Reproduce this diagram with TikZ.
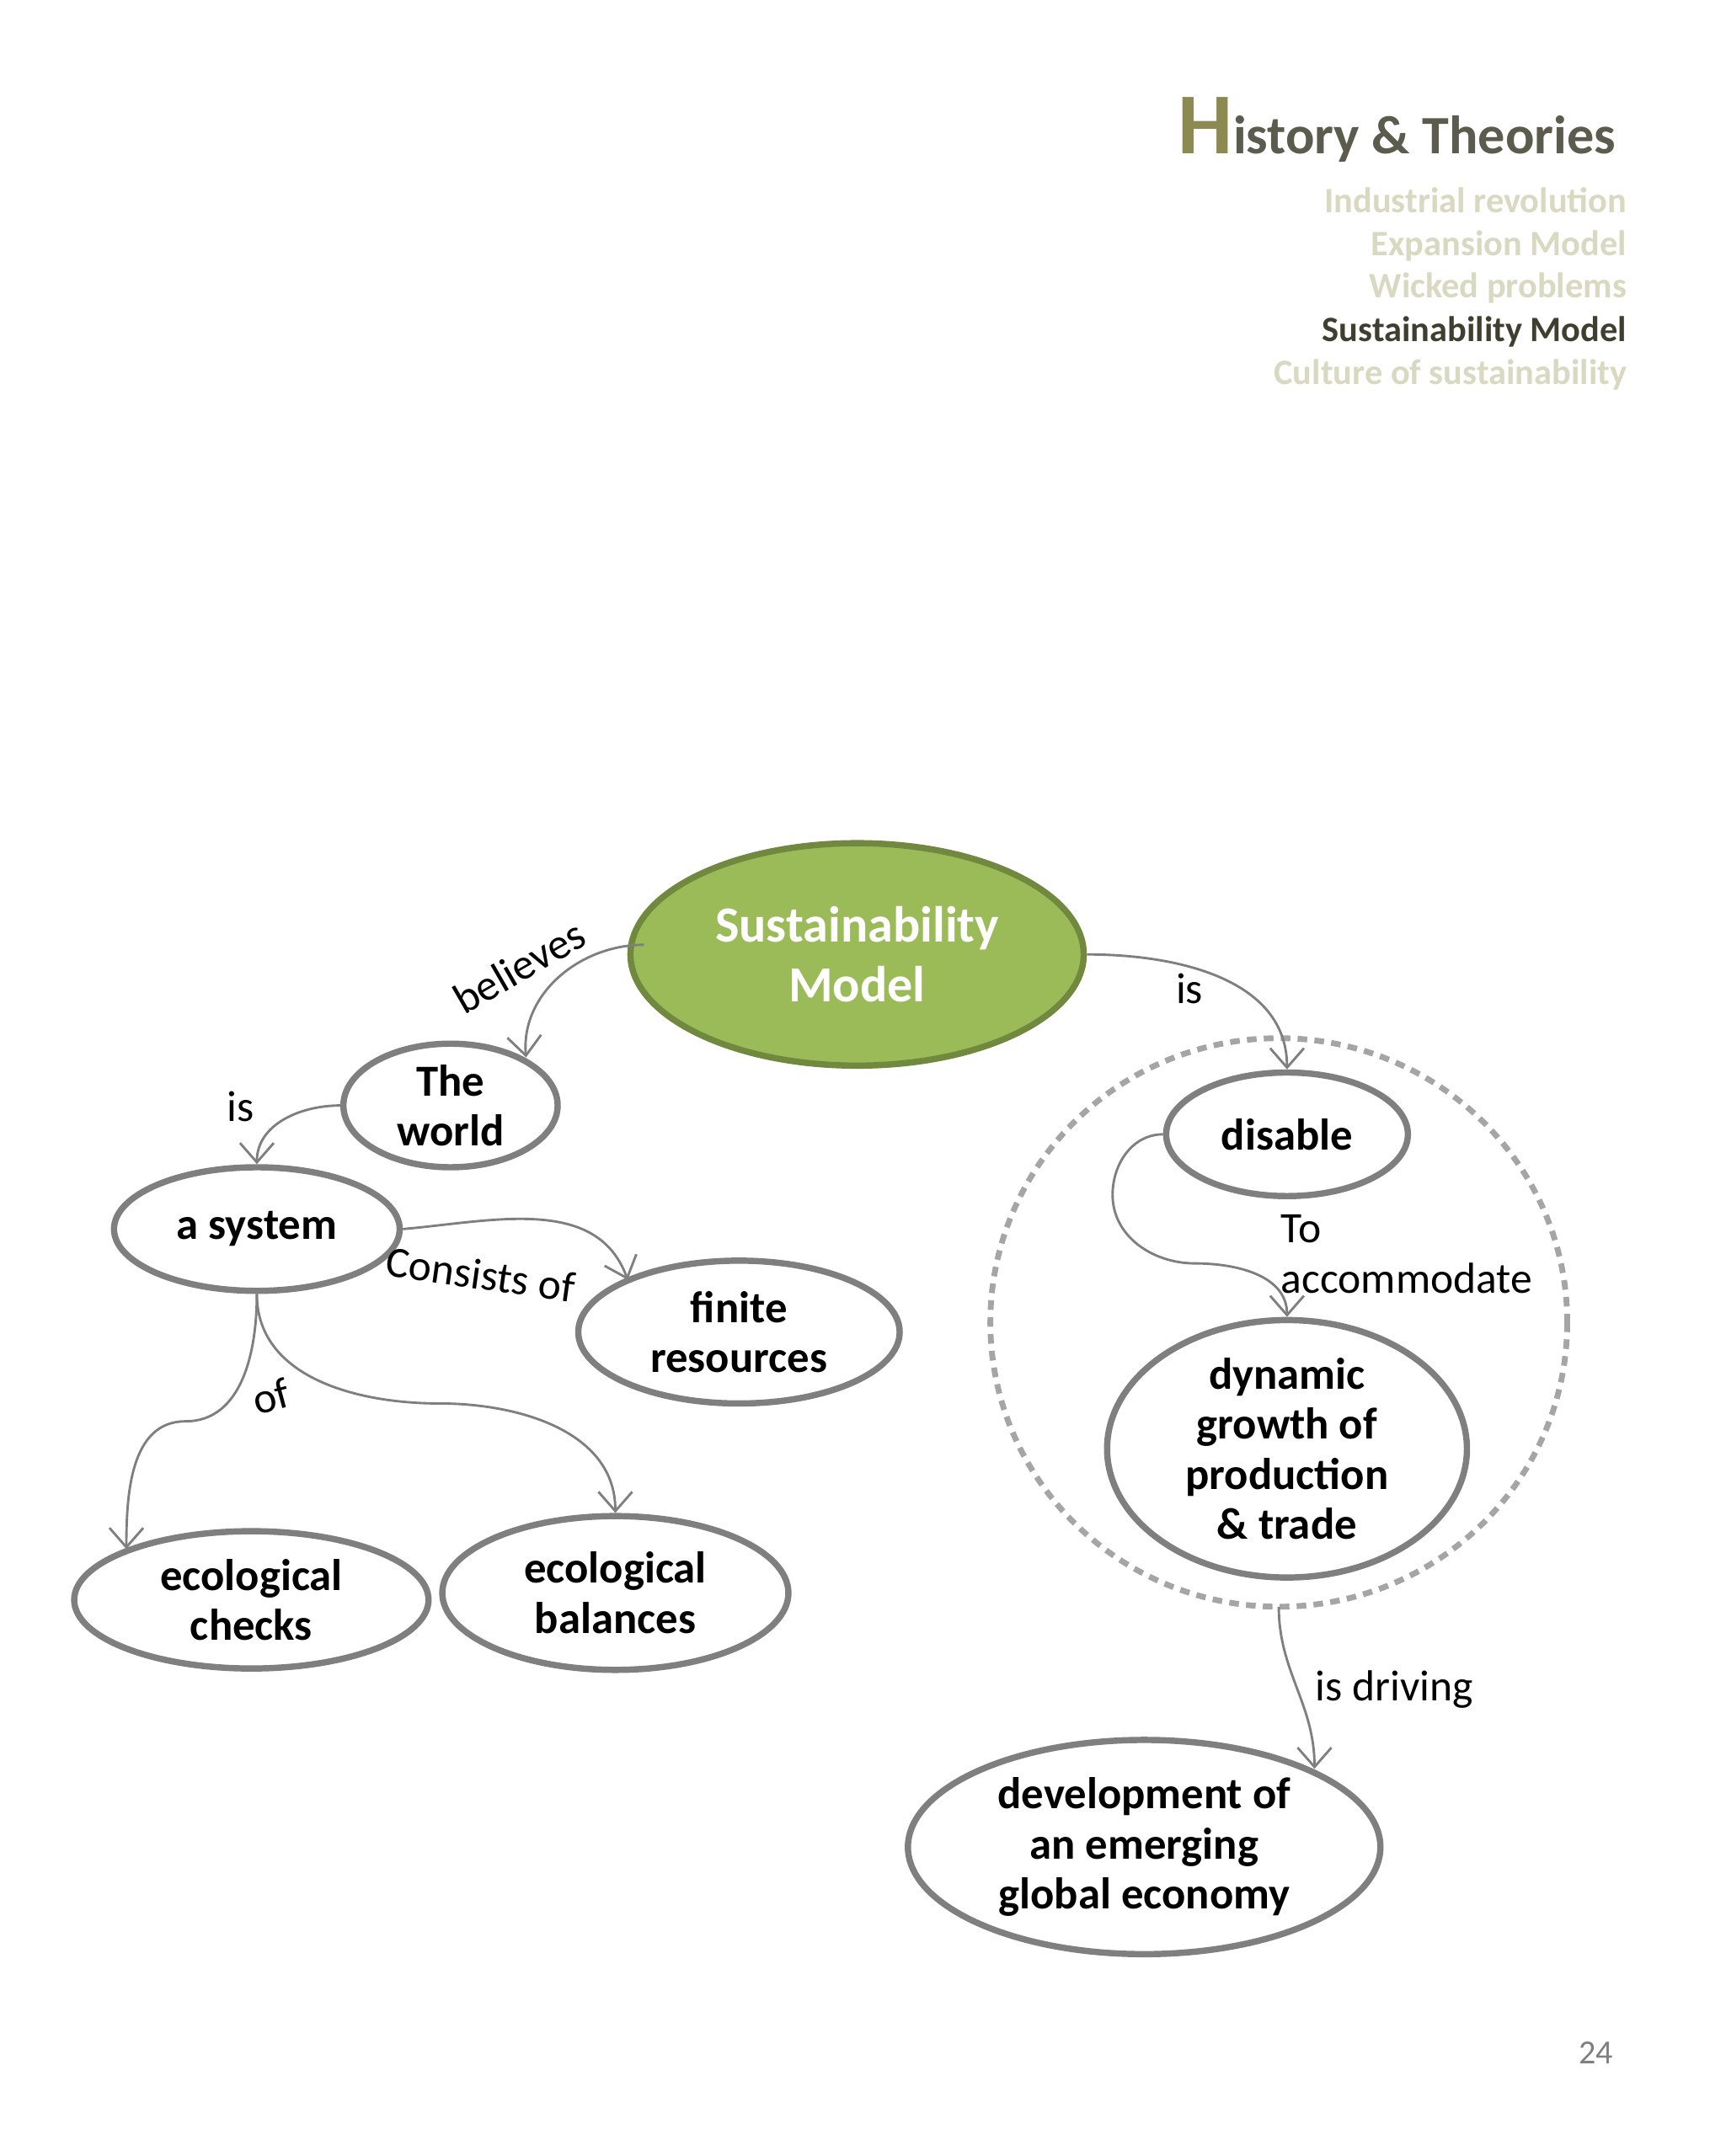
\documentclass[tikz,border=0pt]{standalone}
\usepackage{fontspec}
\setmainfont{Carlito}
\usetikzlibrary{arrows.meta,shapes.geometric}
\definecolor{olive}{HTML}{8C8A50}
\definecolor{menulight}{HTML}{D9D8C1}
\definecolor{menudark}{HTML}{3F3F2F}
\definecolor{leaf}{HTML}{9BBB59}
\definecolor{leafedge}{HTML}{71893F}
\definecolor{edge}{HTML}{7F7F7F}
\tikzset{
  concept/.style={ellipse, draw=edge, line width=1.3pt, fill=white, inner sep=0pt,
    align=center, font=\fontsize{9.2}{10.4}\selectfont\bfseries},
  link/.style={draw=edge, line width=0.5pt, -{Straight Barb[length=4pt,width=7pt]}},
  lbl/.style={font=\fontsize{9}{10.5}\selectfont, text=black}
}
\begin{document}
\begin{tikzpicture}[x=0.1mm, y=-0.1mm]
  \useasboundingbox (0,0) rectangle (1256,1570);

  % header
  \node[anchor=base east, inner sep=0pt, text=olive, font=\fontsize{11.2}{12}\selectfont\bfseries] (title) at (1177,112)
    {{\fontsize{18}{19}\selectfont H}\textcolor{menudark!85}{istory \& Theories}};
  \node[anchor=base east, inner sep=0pt, text=menulight, font=\fontsize{7.4}{8}\selectfont\bfseries] (m1) at (1185,155) {Industrial revolution};
  \node[anchor=base east, inner sep=0pt, text=menulight, font=\fontsize{7.4}{8}\selectfont\bfseries] (m2) at (1185,186) {Expansion Model};
  \node[anchor=base east, inner sep=0pt, text=menulight, font=\fontsize{7.4}{8}\selectfont\bfseries] (m3) at (1185,217) {Wicked problems};
  \node[anchor=base east, inner sep=0pt, text=menudark, font=\fontsize{7.4}{8}\selectfont\bfseries] (m4) at (1185,249) {Sustainability Model};
  \node[anchor=base east, inner sep=0pt, text=menulight, font=\fontsize{7.4}{8}\selectfont\bfseries] (m5) at (1185,280) {Culture of sustainability};
  \node[text=edge, font=\fontsize{7}{8}\selectfont] (page) at (1162,1495) {24};

  % concepts
  \node[concept, fill=leaf, draw=leafedge, text=white, minimum width=33mm, minimum height=16.2mm,
    font=\fontsize{10.5}{12.5}\selectfont\bfseries] (model) at (624,695) {Sustainability\\Model};
  \node[concept, minimum width=15.6mm, minimum height=9mm] (world) at (328,805) {The\\world};
  \node[concept, minimum width=20.8mm, minimum height=9mm] (system) at (187,895) {a system};
  \node[concept, minimum width=23.4mm, minimum height=10.4mm] (finite) at (538,970) {finite\\resources};
  \node[concept, minimum width=25.8mm, minimum height=10mm] (checks) at (183,1165) {ecological\\checks};
  \node[concept, minimum width=25.2mm, minimum height=11.2mm] (balances) at (448,1160) {ecological\\balances};
  \draw[edge!70, line width=1.2pt, dash pattern=on 2pt off 1.5pt] (931,963) ellipse (210 and 207);
  \coordinate (ringbottom) at (931,1170);
  \node[concept, minimum width=17.6mm, minimum height=9mm] (disable) at (937,826) {disable};
  \node[concept, minimum width=26.2mm, minimum height=17mm] (growth) at (937,1055) {dynamic\\growth of\\production\\\& trade};
  \node[concept, minimum width=34.4mm, minimum height=15.6mm] (economy) at (833,1345) {development of\\an emerging\\global economy};

  % links
  \draw[link] (model.west) ++(12,-7) to[out=180, in=95] (383,770);
  \draw[link] (world.west) to[out=180, in=90] (system.north);
  \draw[link] (system.east) to[out=5, in=110] (457,932);
  \draw[link] (system.south) to[out=-90, in=0] (135,1035) to[out=180, in=90] (92,1128);
  \draw[link] (system.south) to[out=-90, in=180] (320,1022) to[out=0, in=90] (balances.north);
  \draw[link] (model.east) to[out=0, in=90] (disable.north);
  \draw[link] (disable.west) to[out=180, in=90] (810,870) to[out=-90, in=180] (870,920) to[out=0, in=90] (growth.north);
  \draw[link] (ringbottom) to[out=-90, in=90] (957,1288);

  % link labels
  \node[lbl, rotate=30] (believes) at (378,704) {believes};
  \node[lbl] (is1) at (175,806) {is};
  \node[lbl, rotate=-8] (consists) at (350,928) {Consists of};
  \node[lbl, rotate=15] (of) at (197,1017) {of};
  \node[lbl] (is2) at (866,720) {is};
  \node[lbl, anchor=north west, align=left, inner sep=0pt] (accom) at (932,884) {To\\accommodate};
  \node[lbl, anchor=west, inner sep=0pt] (driving) at (957,1230) {is driving};
\end{tikzpicture}
\end{document}
